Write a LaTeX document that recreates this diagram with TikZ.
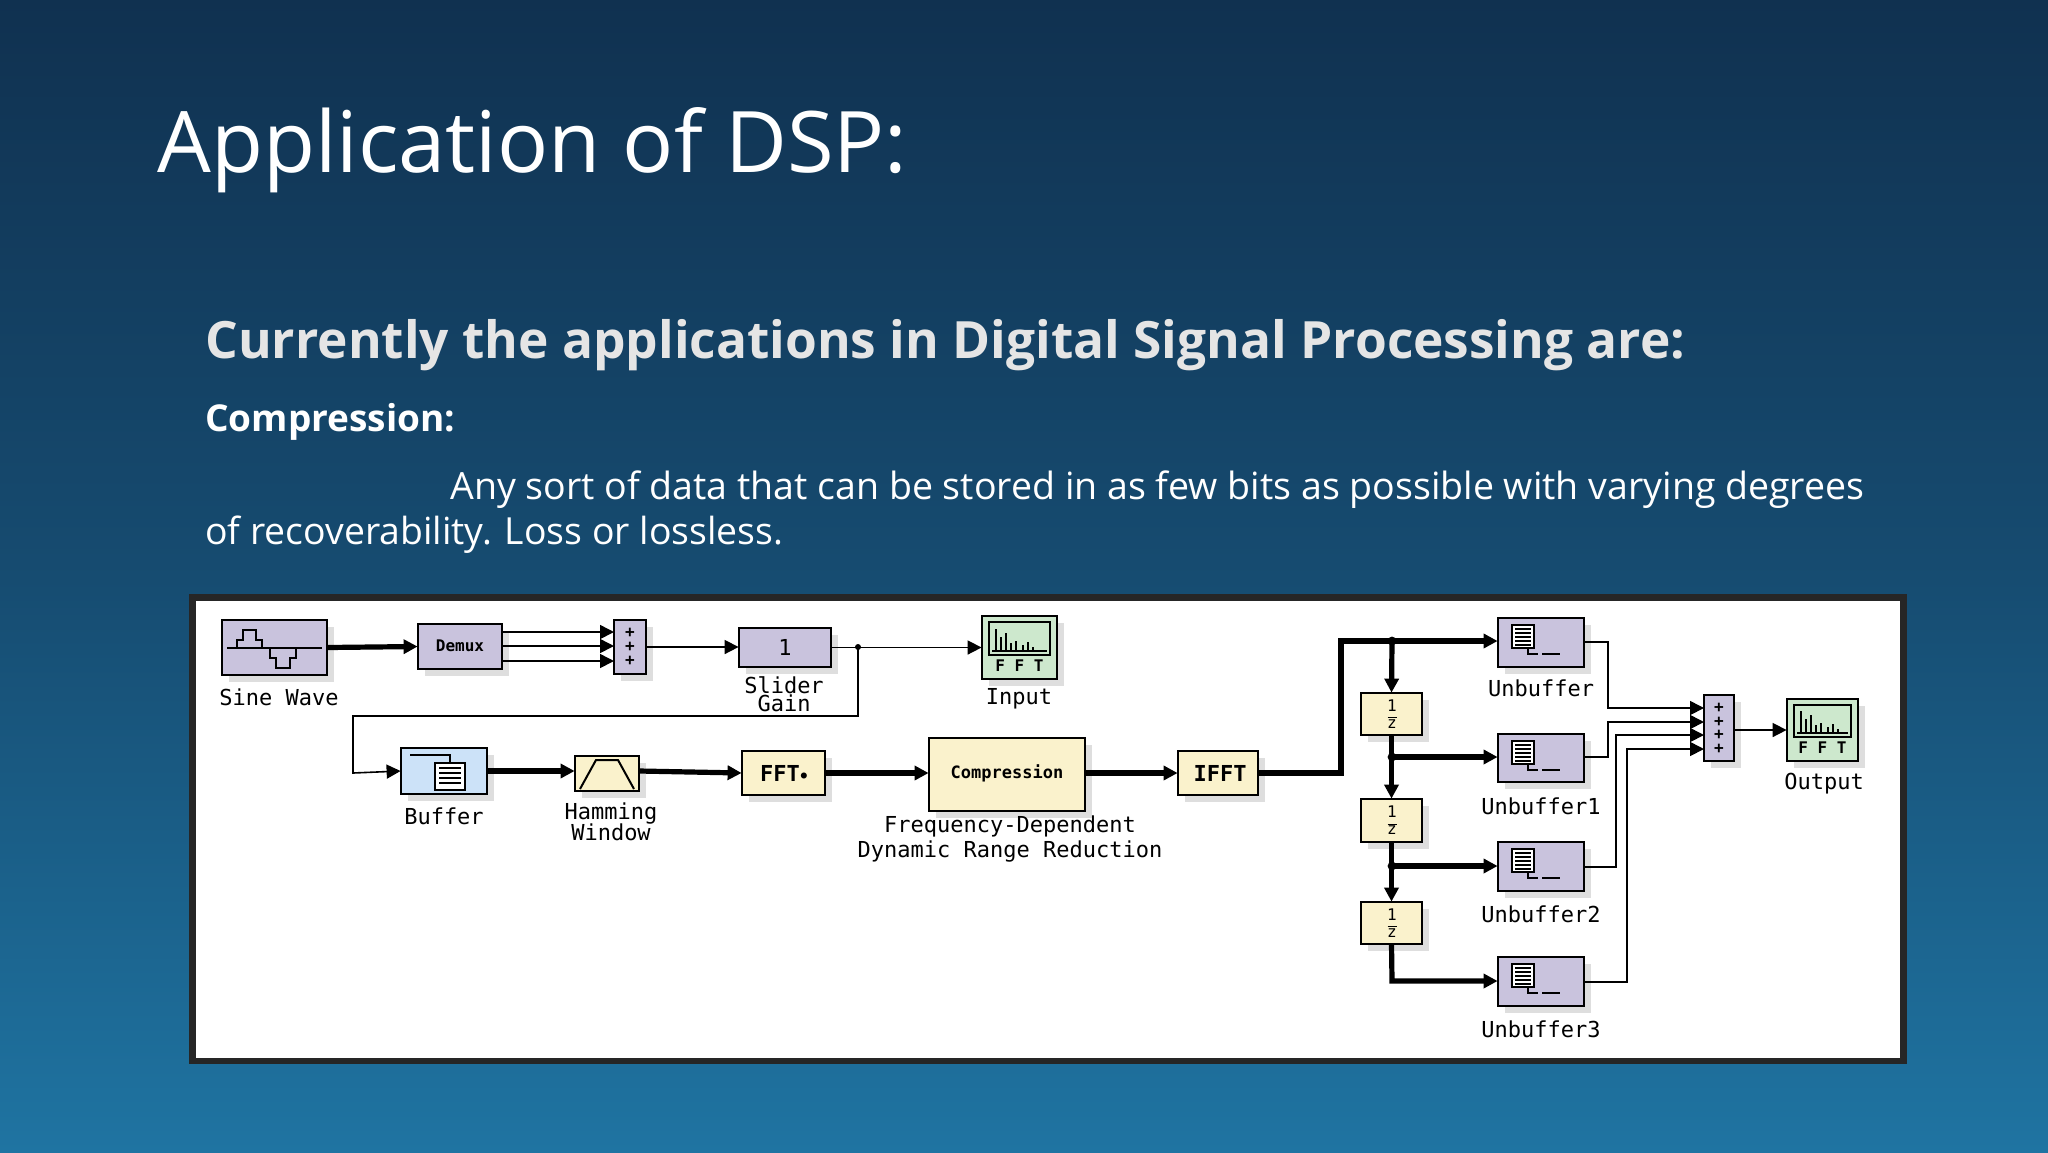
\documentclass[tikz,border=0pt]{standalone}
\usepackage{fontspec}
\setmainfont{Open Sans}
\newfontfamily\pix{DejaVu Sans Mono}
\usetikzlibrary{arrows.meta}
\definecolor{bgtop}{HTML}{103150}
\definecolor{bgbot}{HTML}{1F74A2}
\definecolor{blk}{HTML}{C9C3DD}
\definecolor{yel}{HTML}{FAF2CC}
\definecolor{grn}{HTML}{CDE8CD}
\definecolor{blu}{HTML}{CCE2F8}
\tikzset{
 x=0.5pt,y=-0.5pt,
 blkS/.style={draw=black,line width=1.2pt},
 thick line/.style={line width=2.6pt,-{Triangle[length=7pt,width=7pt]}},
 thin line/.style={line width=0.8pt,-{Triangle[length=7pt,width=7pt]}},
 lbl/.style={font=\pix\fontsize{11}{10}\selectfont,align=center,inner sep=0pt},
 shadowc/.style={fill=black!13,draw=none},
}
\newcommand{\blockbox}[6]{% name,x1,y1,x2,y2,color
 \fill[shadowc] (#2+7,#3+7) rectangle (#4+7,#5+7);
 \draw[blkS,fill=#6] (#2,#3) rectangle (#4,#5);
 \node[inner sep=0pt,minimum width={(#4-#2)*0.5pt},minimum height={(#5-#3)*0.5pt}] (#1) at ({(#2+#4)/2},{(#3+#5)/2}) {};}
\newcommand{\scopeicon}[4]{% x1 y1 x2 y2
 \draw[line width=0.8pt] (#1+7,#2+6) rectangle (#3-7,#4-24);
 \draw[line width=0.7pt] (#1+10,#4-28) -- (#3-10,#4-28);
 \foreach \i/\h in {0/22,5/14,10/18,15/8,20/10,27/6,32/9,37/4}{\draw[line width=0.9pt] (#1+14+\i,#4-28) -- ++(0,-\h);}
 \node[font=\pix\bfseries\fontsize{8}{8}\selectfont,inner sep=0pt] at ({(#1+#3)/2},#4-13) {F F T};}
\newcommand{\unbuficon}[2]{% left x, top y
 \draw[line width=0.8pt,fill=white] (#1+14,#2+7) rectangle (#1+36,#2+30);
 \foreach \k in {11,15,19,23,27}{\draw[line width=1pt] (#1+17,#2+\k) -- (#1+33,#2+\k);}
 \draw[line width=0.8pt] (#1+30,#2+30) -- (#1+30,#2+36) -- (#1+40,#2+36);
 \draw[line width=1pt] (#1+44,#2+36) -- (#1+62,#2+36);}
\newcommand{\sumplus}[3]{\node[font=\pix\bfseries\fontsize{8}{8}\selectfont,inner sep=0pt] at (#1,#2) {#3};}
\begin{document}
\begin{tikzpicture}
\useasboundingbox (0,0) rectangle (2048,1152);
\shade[top color=bgtop,bottom color=bgbot,middle color=bgtop!60!bgbot] (0,0) rectangle (2048,1152);
% texts
\node[anchor=west,text=white,inner sep=0pt] (title) at (157,150) {\resizebox{375pt}{!}{\fontsize{44}{50}\selectfont Application of DSP:}};
\node[anchor=west,text=black!10,inner sep=0pt] (sub) at (205,345) {\resizebox{740pt}{!}{\bfseries\fontsize{28}{32}\selectfont Currently the applications in Digital Signal Processing are:}};
\node[anchor=west,text=white,inner sep=0pt] (comp) at (205,422) {\resizebox{125pt}{!}{\bfseries\fontsize{20}{24}\selectfont Compression:}};
\node[anchor=west,text=white,inner sep=0pt] (l1) at (450,490) {\resizebox{707pt}{!}{\fontsize{20}{24}\selectfont Any sort of data that can be stored in as few bits as possible with varying degrees}};
\node[anchor=west,text=white,inner sep=0pt] (l2) at (205,535) {\resizebox{289pt}{!}{\fontsize{20}{24}\selectfont of recoverability. Loss or lossless.}};
% panel
\fill[black!85] (189,594) rectangle (1907,1064);
\fill[white] (196,601) rectangle (1900,1058);
% blocks
\blockbox{sine}{222}{620}{327}{675}{blk}
\draw[line width=0.8pt] (227,648) -- (322,648);
\draw[line width=1pt] (232,648) -- (237,648) -- (237,640) -- (243,640) -- (243,630) -- (256,630) -- (256,640) -- (262,640) -- (262,648) -- (270,648) -- (270,658) -- (276,658) -- (276,668) -- (290,668) -- (290,658) -- (296,658) -- (296,648) -- (304,648);
\node[lbl] at (279,697) {Sine Wave};
\blockbox{demux}{418}{624}{502}{669}{blk}
\node[lbl,font=\pix\bfseries\fontsize{8}{8}\selectfont] at (460,646) {Demux};
\blockbox{sum1}{614}{620}{646}{674}{blk}
\sumplus{630}{633}{+}\sumplus{630}{647}{+}\sumplus{630}{661}{+}
\blockbox{gain}{739}{628}{831}{667}{blk}
\node[lbl] at (785,647) {1};
\node[lbl] at (784,694) {Slider\\[-1pt]Gain};
\blockbox{inscope}{982}{616}{1057}{679}{grn}
\scopeicon{982}{616}{1057}{679}
\node[lbl] at (1019,699) {Input};
\blockbox{buffer}{401}{748}{487}{794}{blu}
\draw[line width=0.8pt,fill=white] (435,763) rectangle (465,790);
\foreach \k in {768,773,778,783}{\draw[line width=1pt] (439,\k) -- (461,\k);}
\draw[line width=1pt] (410,755) -- (440,755) -- (450,755) -- (450,763);
\node[lbl] at (444,816) {Buffer};
\blockbox{ham}{575}{756}{639}{791}{yel}
\draw[line width=1pt] (580,789) -- (596,760) -- (618,760) -- (634,789);
\node[lbl] at (611,822) {Hamming\\[-1pt]Window};
\blockbox{fft}{742}{751}{825}{795}{yel}
\node[lbl,font=\pix\bfseries\fontsize{11}{10}\selectfont] at (784,773) {FFT\raisebox{1pt}{\scriptsize$\bullet$}};
\blockbox{compr}{929}{738}{1085}{811}{yel}
\node[lbl,font=\pix\bfseries\fontsize{8.5}{8}\selectfont] at (1007,773) {Compression};
\node[lbl] at (1010,839) {Frequency-Dependent\\[1pt]Dynamic Range Reduction};
\blockbox{ifft}{1178}{751}{1258}{795}{yel}
\node[lbl,font=\pix\bfseries\fontsize{11}{10}\selectfont] at (1220,773) {IFFT};
% delays
\foreach \n/\a/\b in {d1/693/735,d2/799/842,d3/902/944}{
 \blockbox{\n}{1361}{\a}{1422}{\b}{yel}
 \node[lbl,font=\pix\fontsize{8}{8}\selectfont] at (1392,{(\a+\b)/2}) {1\\[-4.5pt]\rule{4.5pt}{0.6pt}\\[-3pt]z};}
% unbuffers
\foreach \n/\a/\b/\t/\ly in {u0/618/667/Unbuffer/688,u1/734/782/Unbuffer1/806,u2/842/891/Unbuffer2/914,u3/957/1006/Unbuffer3/1029}{
 \blockbox{\n}{1498}{\a}{1584}{\b}{blk}
 \unbuficon{1498}{\a}
 \node[lbl] at (1541,\ly) {\t};}
\blockbox{sum2}{1704}{695}{1734}{761}{blk}
\foreach \yy in {708,722,735,749}{\sumplus{1719}{\yy}{+}}
\blockbox{outscope}{1787}{699}{1858}{761}{grn}
\scopeicon{1787}{699}{1858}{761}
\node[lbl] at (1824,784) {Output};
% connectors
\draw[thick line] (sine.east) -- (demux.west);
\foreach \yy in {632,646,661}{\draw[thin line] (502,\yy) -- (614,\yy);}
\draw[thin line] (sum1.east) -- (gain.west |- sum1.east);
\coordinate (bp) at (858,647);
\draw[thin line] (gain.east) -- (inscope.west |- gain.east);
\draw[thin line] (bp) -- (858,716) -- (353,716) -- (353,773) -- (buffer.west);
\fill (bp) circle (1.5pt);
\draw[thick line] (buffer.east) -- (ham.west |- buffer.east);
\draw[thick line] (ham.east |- buffer.east) -- (fft.west);
\draw[thick line] (fft.east) -- (compr.west |- fft.east);
\draw[thick line] (compr.east |- fft.east) -- (ifft.west);
\draw[thick line] (ifft.east) -- (1341,773) -- (1341,641) -- (u0.west |- 0,641);
\draw[thick line] (1392,641) -- (d1.north);
\draw[thick line] (d1.south) -- (d2.north);
\draw[thick line] (d2.south) -- (d3.north);
\draw[thick line] (1392,757) -- (u1.west |- 0,757);
\draw[thick line] (1392,866) -- (u2.west |- 0,866);
\draw[thick line] (d3.south) -- (1392,981) -- (u3.west |- 0,981);
\foreach \yy in {641,757,866}{\fill (1392,\yy) circle (2.2pt);}
\draw[thin line] (1584,642) -- (1608,642) -- (1608,708) -- (1704,708);
\draw[thin line] (1584,757) -- (1608,757) -- (1608,722) -- (1704,722);
\draw[thin line] (1584,867) -- (1616,867) -- (1616,735) -- (1704,735);
\draw[thin line] (1584,982) -- (1627,982) -- (1627,749) -- (1704,749);
\draw[thin line] (sum2.east |- 0,730) -- (outscope.west |- 0,730);
\end{tikzpicture}
\end{document}
